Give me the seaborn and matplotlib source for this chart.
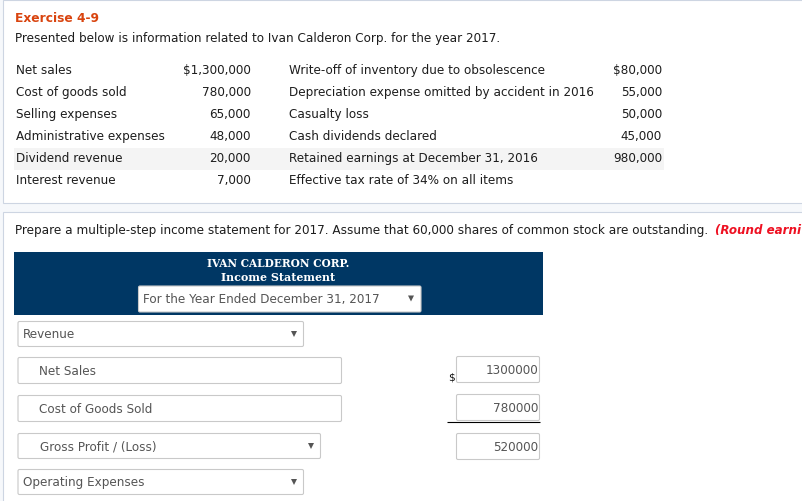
import matplotlib
matplotlib.use("Agg")
import matplotlib.pyplot as plt
from matplotlib.patches import Rectangle, FancyBboxPatch, Polygon
import seaborn as sns

left_labels = ["Net sales", "Cost of goods sold", "Selling expenses",
               "Administrative expenses", "Dividend revenue", "Interest revenue"]
left_values = ["$1,300,000", "780,000", "65,000", "48,000", "20,000", "7,000"]
right_labels = ["Write-off of inventory due to obsolescence",
                "Depreciation expense omitted by accident in 2016",
                "Casualty loss", "Cash dividends declared",
                "Retained earnings at December 31, 2016",
                "Effective tax rate of 34% on all items"]
right_values = ["$80,000", "55,000", "50,000", "45,000", "980,000", ""]
row_y = [70, 92, 114, 136, 158, 180]

# (label, text x, box left, box right, top, bottom, has arrow)
form_rows = [("Revenue", 23, 18, 303.5, 322.5, 347.5, True),
             ("Net Sales", 39, 18, 341.5, 358.5, 384.5, False),
             ("Cost of Goods Sold", 39, 18, 341.5, 396.5, 422.5, False),
             ("Gross Profit / (Loss)", 40, 18, 320.5, 434.5, 459.5, True),
             ("Operating Expenses", 23, 18, 303.5, 470.5, 495.5, True)]
amounts = ["1300000", "780000", "520000"]
amount_tops = [357.5, 395.5, 434.5]

sns.set_theme(style="white")
plt.rcParams["font.family"] = ["DejaVu Sans"]
FS = 8.64
fig = plt.figure(figsize=(8.03, 5.02), dpi=100, facecolor="#f6f8fb")
ax = fig.add_axes([0, 0, 1, 1])
ax.set_xlim(0, 803)
ax.set_ylim(502, 0)
ax.axis("off")


def txt(x, y, s, color="#1d1d1d", ha="left", size=FS, **kw):
    ax.text(x, y - 1, s, color=color, ha=ha, va="center_baseline", fontsize=size, clip_on=True, **kw)


def box(x0, x1, y0, y1, fc="white", ec="#c9c9c9", lw=0.8):
    ax.add_patch(FancyBboxPatch((x0 + 1, y0 + 1), x1 - x0 - 2, y1 - y0 - 2,
                                boxstyle="round,pad=1,rounding_size=1.5",
                                fc=fc, ec=ec, lw=lw))


def arrow(x, y):
    ax.add_patch(Polygon([(x - 3, y - 3), (x + 3, y - 3), (x, y + 3)], fc="#555555", ec="none"))


# panels
for top, bottom in [(0.5, 203.5), (212.5, 510)]:
    ax.add_patch(Rectangle((3.5, top), 810, bottom - top, fc="white", ec="#cdd5e2", lw=0.8))

# data table
ax.add_patch(Rectangle((14, 149), 650, 22, fc="#f4f4f4", ec="none"))
txt(15, 18, "Exercise 4-9", color="#d9440f", fontweight="bold", size=8.8)
txt(15, 38, "Presented below is information related to Ivan Calderon Corp. for the year 2017.")
for y, a, b, c, d in zip(row_y, left_labels, left_values, right_labels, right_values):
    txt(16.5, y, a)
    txt(251, y, b, ha="right")
    txt(289, y, c)
    txt(662, y, d, ha="right")

txt(15, 230, "Prepare a multiple-step income statement for 2017. Assume that 60,000 shares of common stock are outstanding.")
txt(715, 230, "(Round earni", color="#ee1122", fontweight="bold", fontstyle="italic", size=8.55)

# statement header
ax.add_patch(Rectangle((14, 253), 529, 63, fc="#003764", ec="none"))
txt(278.5, 264, "IVAN CALDERON CORP.", color="white", ha="center", family="DejaVu Serif",
    fontweight="bold", size=7.6)
txt(278.5, 277.5, "Income Statement", color="white", ha="center", family="DejaVu Serif",
    fontweight="bold", size=7.9)
box(138.5, 421, 287, 313, ec="#c9c9c9")
txt(143, 299, "For the Year Ended December 31, 2017", color="#555555")
arrow(411, 299.5)

# form rows
for label, tx, x0, x1, y0, y1, has_arrow in form_rows:
    box(x0, x1, y0, y1)
    txt(tx, (y0 + y1) / 2 - 0.5, label, color="#555555")
    if has_arrow:
        arrow(x1 - 9.5, (y0 + y1) / 2)

# amounts
for value, top in zip(amounts, amount_tops):
    box(456.5, 539.5, top, top + 26)
    txt(538, top + 12.5, value, color="#555555", ha="right")
txt(451.5, 377.5, "$", ha="center", color="#111111", size=7.6)
ax.plot([447, 540], [422.5, 422.5], color="black", lw=0.8, solid_capstyle="butt")

fig.savefig("out.png", dpi=100, facecolor=fig.get_facecolor())
